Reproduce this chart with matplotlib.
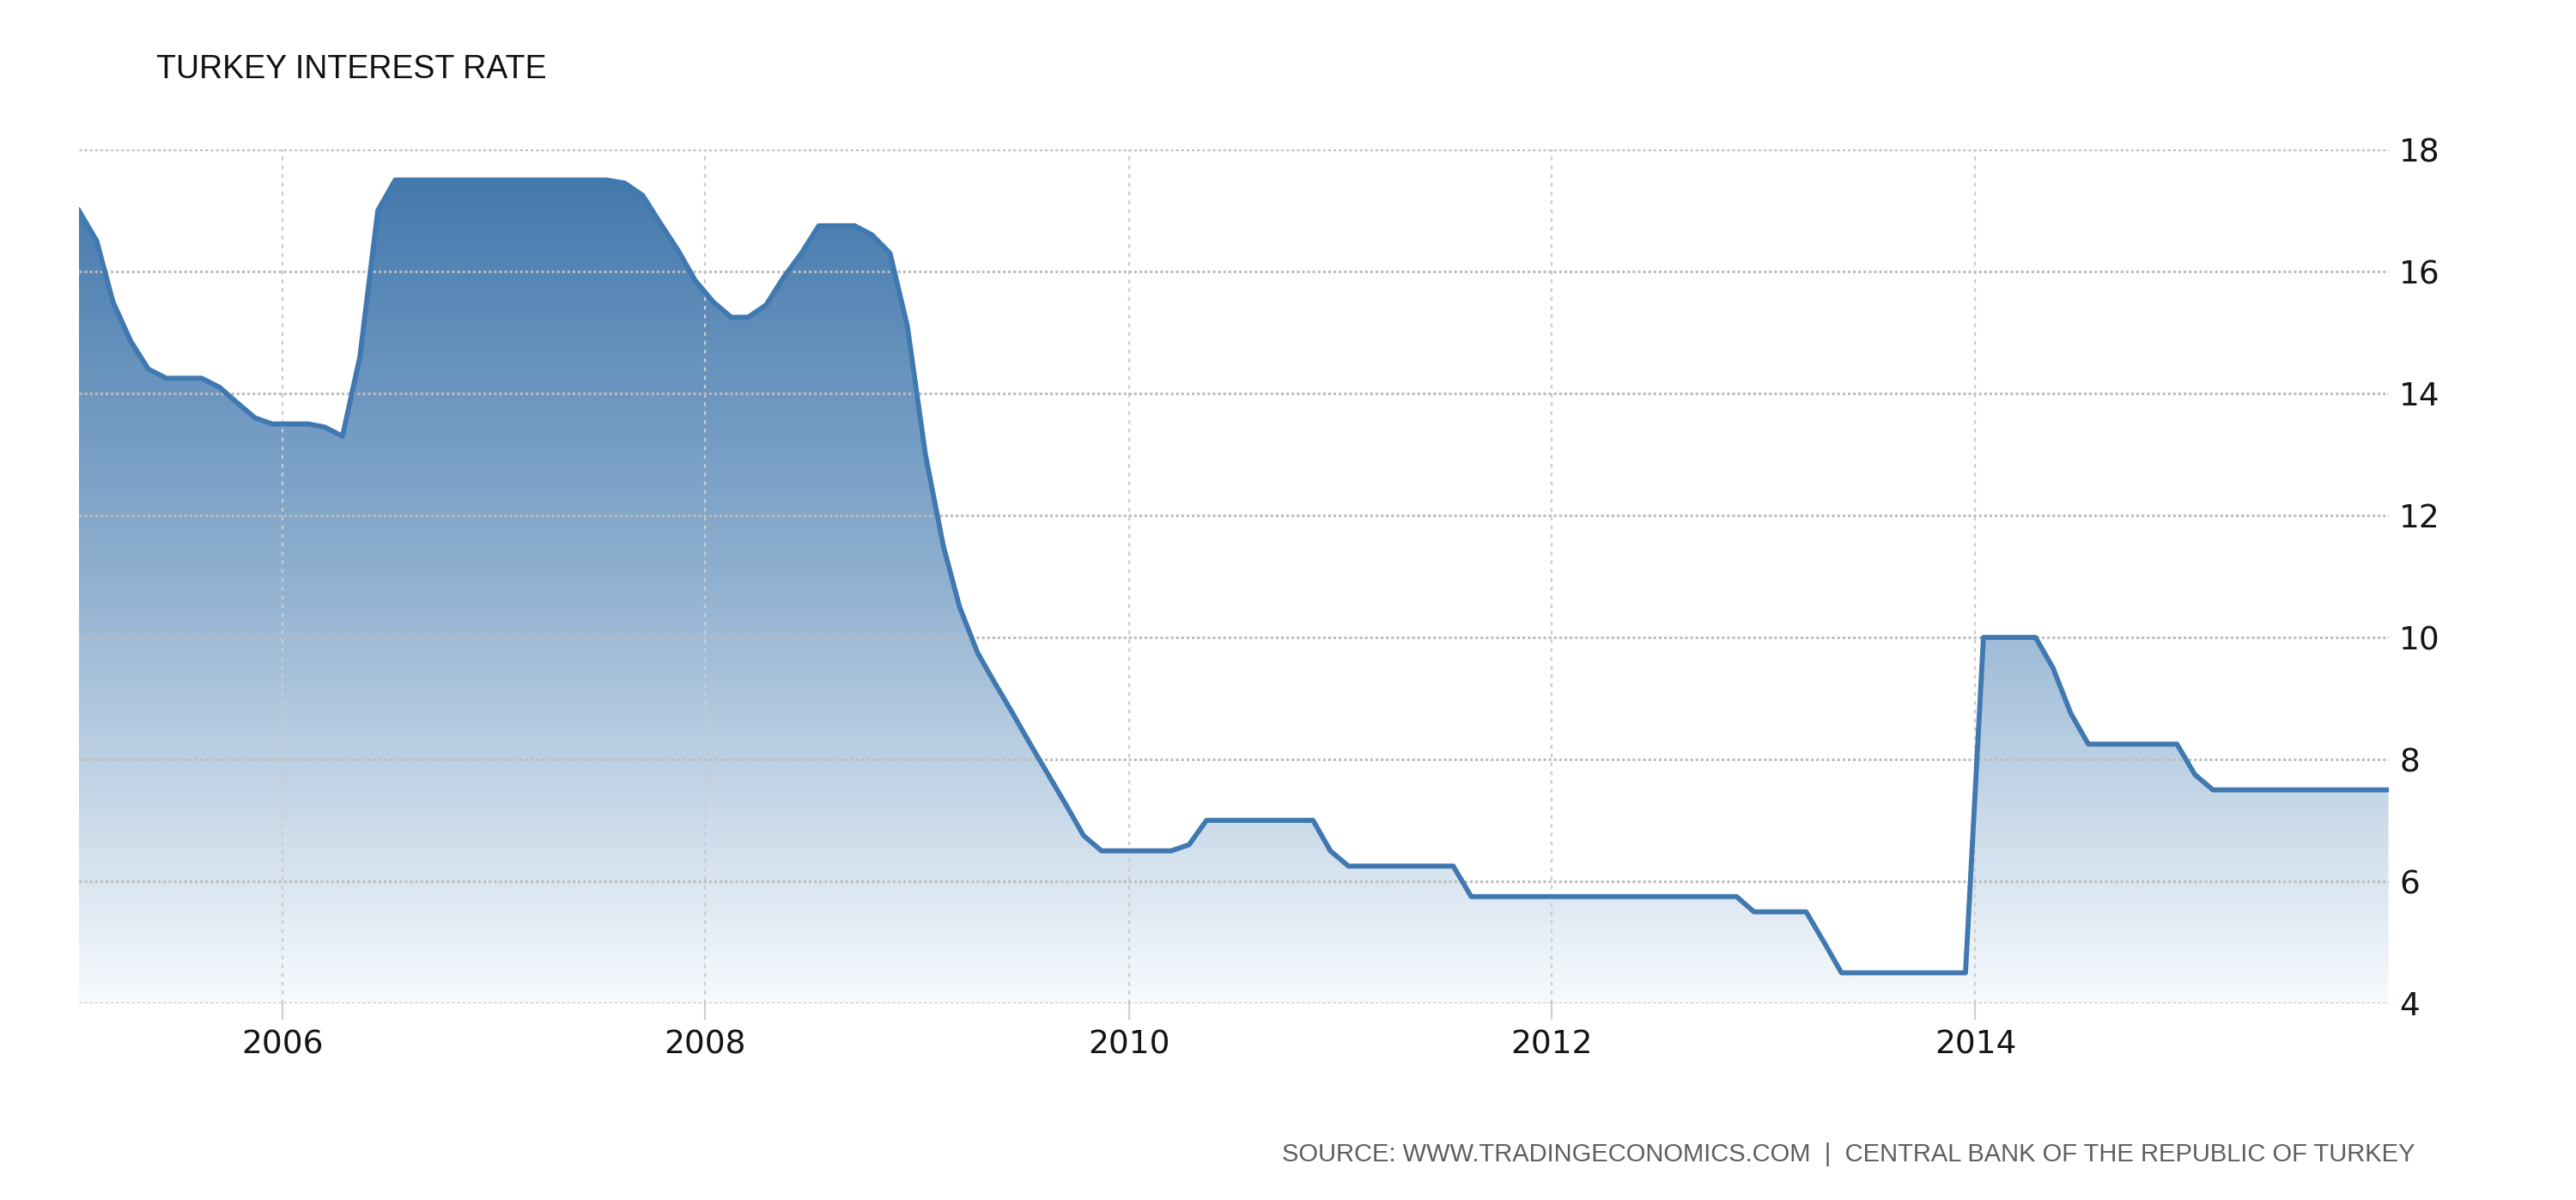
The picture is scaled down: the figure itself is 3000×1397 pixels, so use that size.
import matplotlib
matplotlib.use('Agg')
import matplotlib.pyplot as plt
import matplotlib.dates as mdates
from matplotlib.colors import LinearSegmentedColormap
import numpy as np
import pandas as pd

# monthly readings Jan 2005 .. Dec 2015, placed mid-month
months = pd.date_range('2005-01-01', '2015-12-01', freq='MS') + pd.Timedelta(days=14)

rate_2005 = [17.0, 16.5, 15.5, 14.85, 14.4, 14.25, 14.25, 14.25, 14.1, 13.85, 13.6, 13.5]
rate_2006 = [13.5, 13.5, 13.45, 13.3, 14.6, 17.0, 17.5, 17.5, 17.5, 17.5, 17.5, 17.5]
rate_2007 = [17.5, 17.5, 17.5, 17.5, 17.5, 17.5, 17.5, 17.45, 17.25, 16.8, 16.35, 15.85]
rate_2008 = [15.5, 15.25, 15.25, 15.45, 15.9, 16.3, 16.75, 16.75, 16.75, 16.6, 16.3, 15.1]
rate_2009 = [13.0, 11.5, 10.5, 9.75, 9.25, 8.75, 8.25, 7.75, 7.25, 6.75, 6.5, 6.5]
rate_2010 = [6.5, 6.5, 6.5, 6.6, 7.0, 7.0, 7.0, 7.0, 7.0, 7.0, 7.0, 6.5]
rate_2011 = [6.25, 6.25, 6.25, 6.25, 6.25, 6.25, 6.25, 5.75, 5.75, 5.75, 5.75, 5.75]
rate_2012 = [5.75, 5.75, 5.75, 5.75, 5.75, 5.75, 5.75, 5.75, 5.75, 5.75, 5.75, 5.5]
rate_2013 = [5.5, 5.5, 5.5, 5.0, 4.5, 4.5, 4.5, 4.5, 4.5, 4.5, 4.5, 4.5]
rate_2014 = [10.0, 10.0, 10.0, 10.0, 9.5, 8.75, 8.25, 8.25, 8.25, 8.25, 8.25, 8.25]
rate_2015 = [7.75, 7.5, 7.5, 7.5, 7.5, 7.5, 7.5, 7.5, 7.5, 7.5, 7.5, 7.5]

rate = (rate_2005 + rate_2006 + rate_2007 + rate_2008 + rate_2009 + rate_2010
        + rate_2011 + rate_2012 + rate_2013 + rate_2014 + rate_2015)

year_ticks = [2006, 2008, 2010, 2012, 2014]
y_ticks = [4, 6, 8, 10, 12, 14, 16, 18]

title = 'TURKEY INTEREST RATE'
source = 'SOURCE: WWW.TRADINGECONOMICS.COM  |  CENTRAL BANK OF THE REPUBLIC OF TURKEY'


def main():
    fig = plt.figure(figsize=(30, 13.97), dpi=100)
    ax = fig.add_axes([0.0306, 0.1639, 0.8966, 0.7115])

    x = mdates.date2num(months)

    # gradient area: image clipped to the area under the line
    cmap = LinearSegmentedColormap.from_list(
        'fade', [(0.0, '#f7fafd'), (0.5, '#8fb0d0'), (1.0, '#3f75ab')])
    grad = np.linspace(0, 1, 256).reshape(-1, 1)
    area = ax.fill_between(x, rate, 4, facecolor='none', edgecolor='none')
    im = ax.imshow(grad, extent=[x[0], x[-1], 4, 18], origin='lower',
                   aspect='auto', cmap=cmap, zorder=1, interpolation='bicubic')
    im.set_clip_path(area.get_paths()[0], transform=ax.transData)

    ax.plot(x, rate, color='#4078b0', lw=4.2, zorder=3, solid_joinstyle='round')

    ax.set_xlim(x[0], x[-1])
    ax.set_ylim(4, 18)

    for s in ax.spines.values():
        s.set_visible(False)

    ax.set_axisbelow(False)
    ax.grid(axis='y', color='#bcbcbc', lw=2.2, linestyle=(0, (1, 1)))
    ax.grid(axis='x', color='#cccccc', lw=1.6, linestyle=(0, (2, 2.6)))

    ax.set_xticks(mdates.date2num([pd.Timestamp(f'{y}-01-01') for y in year_ticks]))
    ax.set_xticklabels([str(y) for y in year_ticks])
    ax.set_yticks(y_ticks)
    ax.set_yticklabels([str(v) for v in y_ticks])
    ax.yaxis.tick_right()

    ax.tick_params(axis='x', length=14, width=1.6, color='#cfcfcf', pad=8,
                   labelsize=27, labelcolor='#141414')
    ax.tick_params(axis='y', length=0, pad=9, labelsize=27, labelcolor='#141414')

    fig.text(0.0607, 0.9349, title, fontsize=27, family=['Liberation Sans', 'DejaVu Sans'],
             color='#111111', va='baseline', ha='left')
    fig.text(0.9377, 0.0322, source, fontsize=21, family=['Liberation Sans', 'DejaVu Sans'],
             color='#5e5e5e', va='baseline', ha='right')

    fig.savefig('out.png', dpi=100)


if __name__ == "__main__":
    main()
